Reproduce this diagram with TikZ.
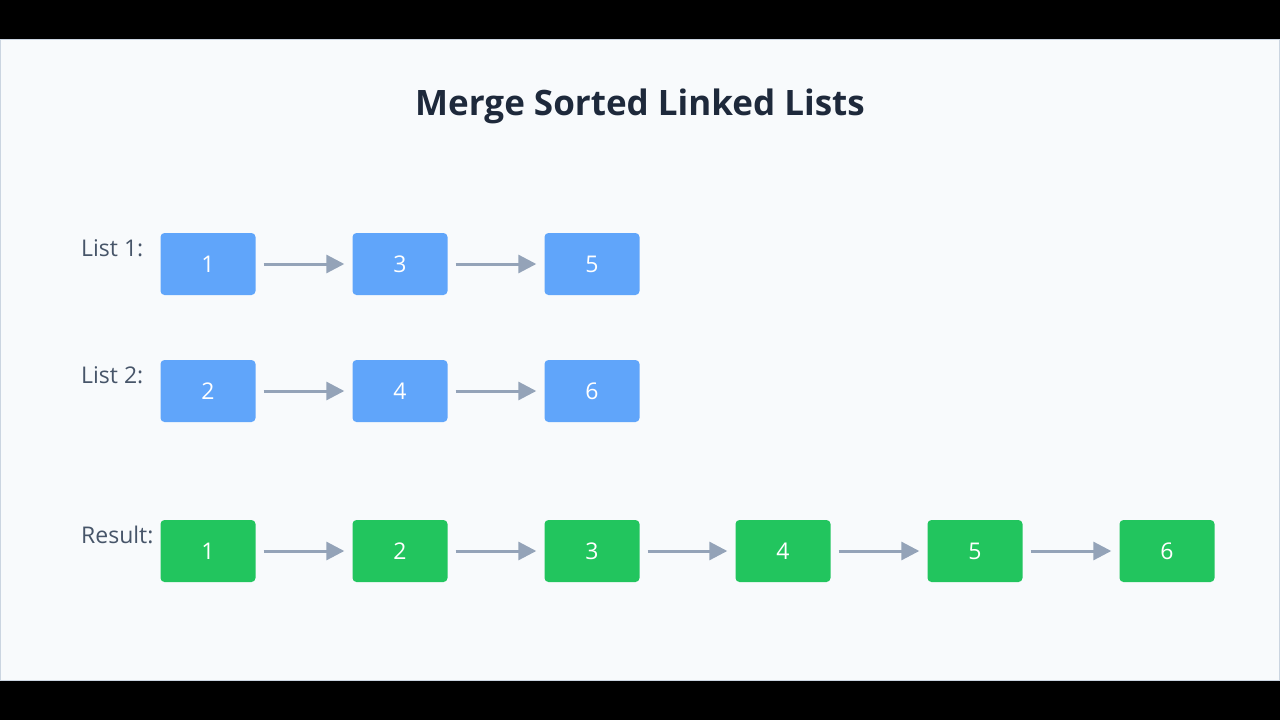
\documentclass[tikz,border=0pt]{standalone}
\usepackage{fontspec}
\setmainfont{Open Sans}
\usetikzlibrary{arrows.meta}
\definecolor{bg}{HTML}{F8FAFC}
\definecolor{bd}{HTML}{CBD5E1}
\definecolor{blueb}{HTML}{60A5FA}
\definecolor{greenb}{HTML}{22C55E}
\definecolor{arr}{HTML}{94A3B8}
\definecolor{ttl}{HTML}{1E293B}
\definecolor{lbl}{HTML}{475569}
\tikzset{
 box/.style={rounded corners=4pt,minimum width=95pt,minimum height=62pt,inner sep=0pt,text=white,font=\fontsize{23}{26}\selectfont},
 bbox/.style={box,fill=blueb},
 gbox/.style={box,fill=greenb},
 lab/.style={anchor=west,text=lbl,font=\fontsize{23}{26}\selectfont,inner sep=0pt},
 link/.style={draw=arr,line width=3pt,-{Triangle[length=18pt,width=18pt]},shorten <=8pt,shorten >=8pt}
}
\begin{document}
\begin{tikzpicture}[x=1pt,y=-1pt]
\fill[black] (0,0) rectangle (1280,720);
\useasboundingbox (0,0) rectangle (1280,720);
\draw[fill=bg,draw=bd,line width=1pt] (0.5,39) rectangle (1279.5,680);
\node[text=ttl,font=\fontsize{35}{40}\selectfont\bfseries] (title) at (640,106) {Merge Sorted Linked Lists};
\node[lab] (l1) at (81,248) {List 1:};
\node[lab] (l2) at (81,375) {List 2:};
\node[lab] (l3) at (81,535) {Result:};
\node[bbox] (a1) at (208,264) {1};
\node[bbox] (a2) at (400,264) {3};
\node[bbox] (a3) at (592,264) {5};
\node[bbox] (b1) at (208,391) {2};
\node[bbox] (b2) at (400,391) {4};
\node[bbox] (b3) at (592,391) {6};
\foreach \i/\x in {1/208,2/400,3/592,4/783,5/975,6/1167}
  \node[gbox] (r\i) at (\x,551) {\i};
\draw[link] (a1) -- (a2);
\draw[link] (a2) -- (a3);
\draw[link] (b1) -- (b2);
\draw[link] (b2) -- (b3);
\foreach \i [count=\j from 2] in {1,...,5}
  \draw[link] (r\i) -- (r\j);
\end{tikzpicture}
\end{document}
